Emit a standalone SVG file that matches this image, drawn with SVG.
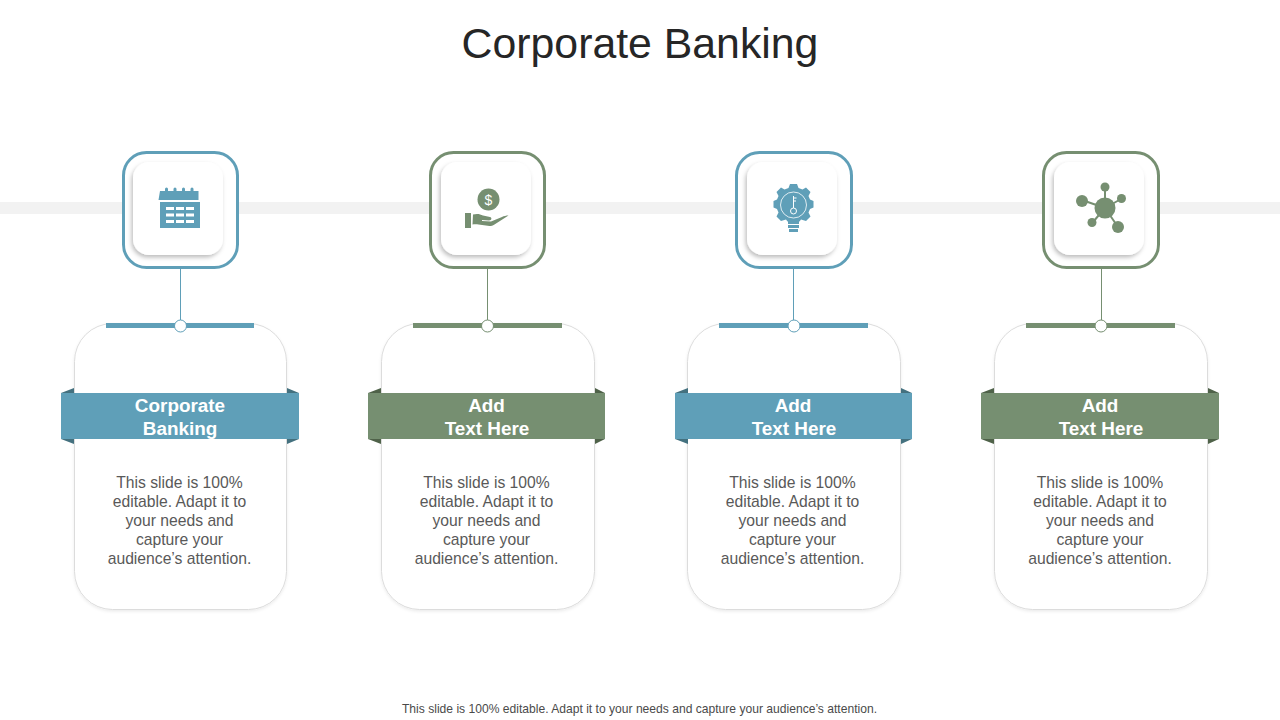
<svg xmlns="http://www.w3.org/2000/svg" width="1280" height="720" viewBox="0 0 1280 720">
<style>
text{font-family:"Liberation Sans",Arial,sans-serif;text-anchor:middle}
.title{font-size:42.8px;fill:#262626}
.foot{font-size:12.1px;fill:#4a4a4a}
.body{font-size:15.7px;fill:#595959}
.head{font-size:18.9px;font-weight:bold;fill:#fff}
.card{fill:#fff;stroke:#dcdcdc;stroke-width:1;filter:url(#sc)}
.inner{fill:#fff;filter:url(#sh)}
.box{fill:#fff;stroke-width:3}
.blue .box{stroke:#5f9fb8}
.green .box{stroke:#768f71}
.blue .fill{fill:#5f9fb8}
.green .fill{fill:#768f71}
.blue .dark{fill:#44717f}
.green .dark{fill:#4f6249}
.blue .ln{stroke:#5f9fb8}
.green .ln{stroke:#768f71}
.ln{stroke-width:1;fill:none}
.dot{fill:#fff;stroke-width:1}
.cut{fill:#fff}
</style>
<defs>
<filter id="sh" x="-20%" y="-20%" width="140%" height="140%"><feDropShadow dx="-1.500" dy="2.500" stdDeviation="2" flood-color="#000" flood-opacity="0.26"/></filter>
<filter id="sc" x="-10%" y="-10%" width="120%" height="120%"><feDropShadow dx="0" dy="1.500" stdDeviation="1.500" flood-color="#000" flood-opacity="0.08"/></filter>
</defs>
<rect width="1280" height="720" fill="#fff"/>
<text class="title" x="640" y="58">Corporate Banking</text>
<rect id="band" x="0" y="202" width="1280" height="12" fill="#f2f2f2"/>

<g id="connectors">
<g class="blue"><line class="ln" x1="180.500" y1="268" x2="180.500" y2="320"/></g>
<g class="green"><line class="ln" x1="487.500" y1="268" x2="487.500" y2="320"/></g>
<g class="blue"><line class="ln" x1="793.500" y1="268" x2="793.500" y2="320"/></g>
<g class="green"><line class="ln" x1="1101.500" y1="268" x2="1101.500" y2="320"/></g>
</g>

<g id="node1" class="blue">
<rect class="box" x="123.500" y="152.500" width="114" height="115" rx="23"/>
<rect class="inner" x="133" y="162" width="90" height="93" rx="16"/>
<path class="fill" d="M160 191h5v-2a1.500 1.500 0 0 1 3 0v2h5.500v-2a1.500 1.500 0 0 1 3 0v2h5.500v-2a1.500 1.500 0 0 1 3 0v2h5.500v-2a1.500 1.500 0 0 1 3 0v2h5v9h-40z M160 202h40v26h-40z"/>
<path class="cut" d="M166 207h8v3h-8zM176 207h8v3h-8zM186 207h8v3h-8zM166 213.500h8v3h-8zM176 213.500h8v3h-8zM186 213.500h8v3h-8zM166 220h8v3h-8zM176 220h8v3h-8zM186 220h8v3h-8z"/>
<rect class="card" x="74.500" y="323.500" width="212" height="286" rx="38"/>
<rect class="fill" x="106" y="323" width="148" height="5"/>
<circle class="dot ln" cx="180.500" cy="326" r="6"/>
<path class="dark" d="M61 393l13-5v5zM61 439l13 5v-5zM299 393l-12-5v5zM299 439l-12 5v-5z"/>
<rect class="fill" x="61" y="393" width="238" height="46"/>
<text class="head"><tspan x="180" y="411.500">Corporate</tspan><tspan x="180" y="434.500">Banking</tspan></text>
<text class="body"><tspan x="179.500" y="487.500">This slide is 100%</tspan><tspan x="179.500" y="506.500">editable. Adapt it to</tspan><tspan x="179.500" y="525.500">your needs and</tspan><tspan x="179.500" y="544.500">capture your</tspan><tspan x="179.500" y="563.500">audience’s attention.</tspan></text>
</g>

<g id="node2" class="green">
<rect class="box" x="430.500" y="152.500" width="114" height="115" rx="23"/>
<rect class="inner" x="441" y="162" width="90" height="93" rx="16"/>
<circle class="fill" cx="488.500" cy="199.500" r="11"/>
<text x="488.500" y="204.500" style="font-size:14px;fill:#fff">$</text>
<path class="fill" d="M465 213h6v15h-6zM473 214.500c4-1 7-.5 10 1l7 1.500c2 .5 2 3.500-1 3.500l-7-.5 0 1 9 .5 11-4.500c2-1 4-1.500 6.500-1.500l-14 9c-2 1.500-3 1.500-5 1.500l-11-1.500c-2-.5-4-.5-6 0z"/>
<rect class="card" x="381.500" y="323.500" width="213" height="286" rx="38"/>
<rect class="fill" x="413" y="323" width="149" height="5"/>
<circle class="dot ln" cx="487.500" cy="326" r="6"/>
<path class="dark" d="M368 393l13-5v5zM368 439l13 5v-5zM605 393l-10-5v5zM605 439l-10 5v-5z"/>
<rect class="fill" x="368" y="393" width="237" height="46"/>
<text class="head"><tspan x="486.500" y="411.500">Add</tspan><tspan x="487" y="434.500">Text Here</tspan></text>
<text class="body"><tspan x="486.500" y="487.500">This slide is 100%</tspan><tspan x="486.500" y="506.500">editable. Adapt it to</tspan><tspan x="486.500" y="525.500">your needs and</tspan><tspan x="486.500" y="544.500">capture your</tspan><tspan x="486.500" y="563.500">audience’s attention.</tspan></text>
</g>

<g id="node3" class="blue">
<rect class="box" x="736.500" y="152.500" width="115" height="115" rx="23"/>
<rect class="inner" x="747" y="162" width="90" height="93" rx="16"/>
<path class="fill" d="M790 184h7l1.500 4 4 1.500 3.500-2 4.500 4.500-2 4 1.500 3.500 3.500 1.500v6.500l-3.500 1.500-1.500 3.500 2 4-4.500 4.500-5-1.500-1.500 2h-12l-1.500-2-5 1.500-4.500-4.500 2-4-1.500-3.500-3.500-1.500v-6.500l3.500-1.500 1.500-3.500-2-4 4.500-4.500 3.500 2 4-1.500z"/>
<circle cx="793.500" cy="205" r="13" fill="none" stroke="#fff" stroke-width="0.800"/>
<path d="M793.500 196v12M793.500 198h3M793.500 201h2.500" fill="none" stroke="#fff" stroke-width="1"/>
<circle cx="793.500" cy="211" r="3" fill="none" stroke="#fff" stroke-width="1"/>
<path class="fill" d="M788 221h11v3h-11zM788 225h11v3h-11zM789 229h9v3h-9z"/>
<rect class="card" x="687.500" y="323.500" width="213" height="286" rx="38"/>
<rect class="fill" x="719" y="323" width="149" height="5"/>
<circle class="dot ln" cx="794" cy="326" r="6"/>
<path class="dark" d="M675 393l13-5v5zM675 439l13 5v-5zM912 393l-11-5v5zM912 439l-11 5v-5z"/>
<rect class="fill" x="675" y="393" width="237" height="46"/>
<text class="head"><tspan x="793" y="411.500">Add</tspan><tspan x="794" y="434.500">Text Here</tspan></text>
<text class="body"><tspan x="792.500" y="487.500">This slide is 100%</tspan><tspan x="792.500" y="506.500">editable. Adapt it to</tspan><tspan x="792.500" y="525.500">your needs and</tspan><tspan x="792.500" y="544.500">capture your</tspan><tspan x="792.500" y="563.500">audience’s attention.</tspan></text>
</g>

<g id="node4" class="green">
<rect class="box" x="1043.500" y="152.500" width="115" height="115" rx="23"/>
<rect class="inner" x="1054" y="162" width="90" height="93" rx="16"/>
<path class="ln" style="stroke-width:2" d="M1105 208L1105 187M1105 208L1121 199M1105 208L1082 200M1105 208L1093 222M1105 208L1118 227"/>
<circle class="fill" cx="1105" cy="208" r="10.500"/>
<circle class="fill" cx="1105" cy="187" r="4.500"/>
<circle class="fill" cx="1121.500" cy="198.500" r="4.500"/>
<circle class="fill" cx="1082" cy="201" r="6"/>
<circle class="fill" cx="1092" cy="222.500" r="4.500"/>
<circle class="fill" cx="1118" cy="227" r="6"/>
<rect class="card" x="994.500" y="323.500" width="213" height="286" rx="38"/>
<rect class="fill" x="1026" y="323" width="149" height="5"/>
<circle class="dot ln" cx="1101" cy="326" r="6"/>
<path class="dark" d="M981 393l13-5v5zM981 439l13 5v-5zM1219 393l-11-5v5zM1219 439l-11 5v-5z"/>
<rect class="fill" x="981" y="393" width="238" height="46"/>
<text class="head"><tspan x="1100" y="411.500">Add</tspan><tspan x="1101" y="434.500">Text Here</tspan></text>
<text class="body"><tspan x="1100" y="487.500">This slide is 100%</tspan><tspan x="1100" y="506.500">editable. Adapt it to</tspan><tspan x="1100" y="525.500">your needs and</tspan><tspan x="1100" y="544.500">capture your</tspan><tspan x="1100" y="563.500">audience’s attention.</tspan></text>
</g>

<text class="foot" x="639.500" y="713">This slide is 100% editable. Adapt it to your needs and capture your audience’s attention.</text>
</svg>
